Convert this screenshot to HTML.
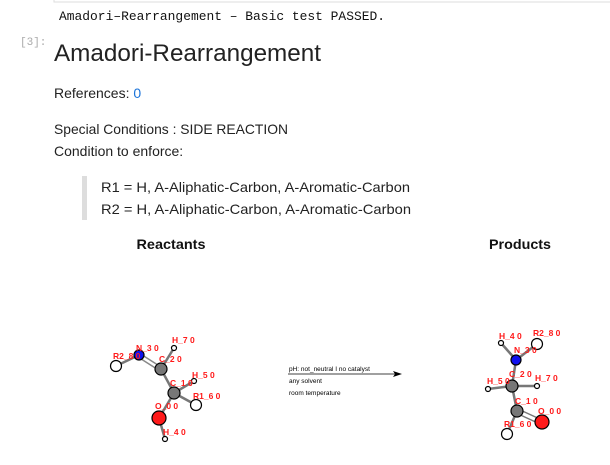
<!DOCTYPE html>
<html><head><meta charset="utf-8"><style>
html,body{margin:0;padding:0;background:#fff;width:610px;height:465px;overflow:hidden}
svg{display:block}
.s{font-family:"Liberation Sans",sans-serif}
.lab{font-family:"Liberation Sans",sans-serif;font-size:8.5px;font-weight:bold;fill:#ff1a1a}
</style></head><body>
<svg width="610" height="465" viewBox="0 0 610 465" xmlns="http://www.w3.org/2000/svg">
<rect x="54" y="-2" width="560" height="4" fill="#fff" stroke="#ddd" stroke-width="1"/>
<text x="59" y="20" font-family="Liberation Mono,monospace" font-size="13" fill="#111" textLength="326" lengthAdjust="spacingAndGlyphs">Amadori–Rearrangement – Basic test PASSED.</text>
<text x="20" y="45" font-family="Liberation Mono,monospace" font-size="11" fill="#aaa">[3]:</text>
<text class="s" x="54" y="61" font-size="24" fill="#222" textLength="267" lengthAdjust="spacingAndGlyphs">Amadori-Rearrangement</text>
<text class="s" x="54" y="98" font-size="14" fill="#222">References: <tspan fill="#1a73d9">0</tspan></text>
<text class="s" x="54" y="134" font-size="14" fill="#222" textLength="234" lengthAdjust="spacingAndGlyphs">Special Conditions : SIDE REACTION</text>
<text class="s" x="54" y="156" font-size="14" fill="#222">Condition to enforce:</text>
<rect x="82" y="176" width="5" height="44" fill="#ddd"/>
<text class="s" x="101" y="192" font-size="14" fill="#222" textLength="309" lengthAdjust="spacingAndGlyphs">R1 = H, A-Aliphatic-Carbon, A-Aromatic-Carbon</text>
<text class="s" x="101" y="214" font-size="14" fill="#222" textLength="310" lengthAdjust="spacingAndGlyphs">R2 = H, A-Aliphatic-Carbon, A-Aromatic-Carbon</text>
<text class="s" x="171" y="249" font-size="14" font-weight="bold" text-anchor="middle" fill="#111" textLength="69" lengthAdjust="spacingAndGlyphs">Reactants</text>
<text class="s" x="520" y="249" font-size="14" font-weight="bold" text-anchor="middle" fill="#111" textLength="62" lengthAdjust="spacingAndGlyphs">Products</text>

<line x1="288" y1="374" x2="396" y2="374" stroke="#000" stroke-width="0.8"/>
<polygon points="402,374 393,371 395,374 393,377" fill="#000"/>
<text class="s" x="289" y="371" font-size="6.5" fill="#000">pH: not_neutral I no catalyst</text>
<text class="s" x="289" y="383" font-size="6.5" fill="#000">any solvent</text>
<text class="s" x="289" y="395" font-size="6.5" fill="#000">room temperature</text>

<g stroke="#777" stroke-width="2.5">
<line x1="116" y1="366" x2="139" y2="355"/>
<line x1="139" y1="353" x2="161" y2="367" stroke="#888" stroke-width="1.5"/>
<line x1="138" y1="357" x2="160" y2="371" stroke="#888" stroke-width="1.5"/>
<line x1="161" y1="369" x2="174" y2="348"/>
<line x1="161" y1="369" x2="174" y2="393"/>
<line x1="174" y1="393" x2="194" y2="381"/>
<line x1="174" y1="393" x2="196" y2="405"/>
<line x1="174" y1="393" x2="159" y2="418"/>
<line x1="159" y1="418" x2="165" y2="439"/>
</g>
<g stroke="#000" stroke-width="1.2">
<circle cx="116" cy="366" r="5.5" fill="#fff"/>
<circle cx="139" cy="355" r="5" fill="#1010ee"/>
<circle cx="161" cy="369" r="6" fill="#777"/>
<circle cx="174" cy="348" r="2.5" fill="#fff"/>
<circle cx="174" cy="393" r="6" fill="#777"/>
<circle cx="194" cy="381" r="2.5" fill="#fff"/>
<circle cx="196" cy="405" r="5.5" fill="#fff"/>
<circle cx="159" cy="418" r="7" fill="#ff1a1a"/>
<circle cx="165" cy="439" r="2.5" fill="#fff"/>
</g>
<text class="lab" x="136" y="351">N_3 0</text>
<text class="lab" x="113" y="359">R2_8 0</text>
<text class="lab" x="159" y="362">C_2 0</text>
<text class="lab" x="172" y="343">H_7 0</text>
<text class="lab" x="170" y="386">C_1 0</text>
<text class="lab" x="192" y="378">H_5 0</text>
<text class="lab" x="193" y="399">R1_6 0</text>
<text class="lab" x="155" y="409">O_0 0</text>
<text class="lab" x="163" y="435">H_4 0</text>

<g stroke="#777" stroke-width="2.5">
<line x1="501" y1="343" x2="516" y2="360"/>
<line x1="537" y1="344" x2="516" y2="360"/>
<line x1="516" y1="360" x2="512" y2="386"/>
<line x1="512" y1="386" x2="488" y2="389"/>
<line x1="512" y1="386" x2="537" y2="386"/>
<line x1="512" y1="386" x2="517" y2="411"/>
<line x1="518" y1="409" x2="542" y2="420" stroke-width="1.5"/>
<line x1="516" y1="413" x2="540" y2="424" stroke-width="1.5"/>
<line x1="517" y1="411" x2="507" y2="434"/>
</g>
<g stroke="#000" stroke-width="1.2">
<circle cx="501" cy="343" r="2.5" fill="#fff"/>
<circle cx="537" cy="344" r="5.5" fill="#fff"/>
<circle cx="516" cy="360" r="5" fill="#1010ee"/>
<circle cx="512" cy="386" r="6" fill="#777"/>
<circle cx="488" cy="389" r="2.5" fill="#fff"/>
<circle cx="537" cy="386" r="2.5" fill="#fff"/>
<circle cx="517" cy="411" r="6" fill="#777"/>
<circle cx="542" cy="422" r="7" fill="#ff1a1a"/>
<circle cx="507" cy="434" r="5.5" fill="#fff"/>
</g>
<text class="lab" x="499" y="339">H_4 0</text>
<text class="lab" x="533" y="336">R2_8 0</text>
<text class="lab" x="514" y="353">N_3 0</text>
<text class="lab" x="509" y="377">C_2 0</text>
<text class="lab" x="487" y="384">H_5 0</text>
<text class="lab" x="535" y="381">H_7 0</text>
<text class="lab" x="515" y="404">C_1 0</text>
<text class="lab" x="538" y="414">O_0 0</text>
<text class="lab" x="504" y="427">R1_6 0</text>
</svg>
</body></html>
